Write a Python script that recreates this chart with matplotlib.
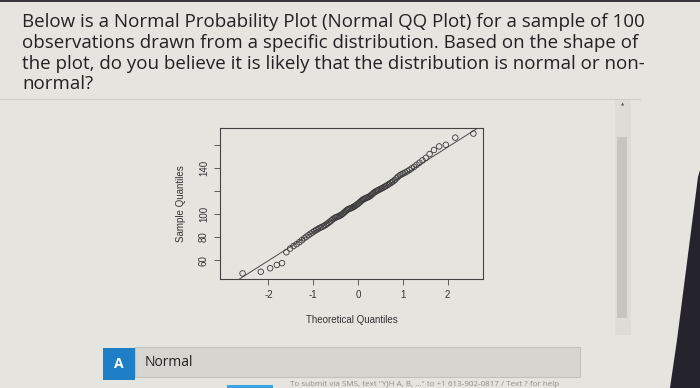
import numpy as np
import matplotlib
matplotlib.use("Agg")
import matplotlib.pyplot as plt
from matplotlib.patches import Rectangle, Polygon
from statistics import NormalDist

plt.rcParams["axes.unicode_minus"] = False

# --- data (sorted sample, n = 100) ---
sample_values = [
    48.5, 49.9, 53.0, 55.8, 57.4, 66.8, 70.0, 72.2, 73.8, 75.5,
    77.2, 78.9, 80.3, 81.6, 82.9, 84.0, 85.1, 86.0, 86.9, 87.7,
    88.4, 89.0, 89.7, 90.5, 91.4, 92.3, 93.2, 94.2, 95.2, 96.0,
    96.7, 97.2, 97.6, 98.1, 98.6, 99.2, 100.0, 100.9, 101.8, 102.7,
    103.5, 104.1, 104.5, 104.9, 105.3, 105.8, 106.4, 107.0, 107.7, 108.4,
    109.2, 110.0, 110.9, 111.7, 112.4, 113.0, 113.5, 113.9, 114.3, 114.8,
    115.4, 116.2, 117.1, 118.0, 118.8, 119.5, 120.1, 120.6, 121.1, 121.7,
    122.3, 122.9, 123.6, 124.2, 125.0, 125.8, 126.6, 127.4, 128.3, 129.4,
    130.9, 132.3, 133.4, 134.3, 135.1, 135.9, 136.9, 138.1, 139.4, 140.8,
    142.5, 144.3, 146.3, 148.5, 151.8, 155.3, 158.4, 159.8, 166.0, 169.5,
]
x_ticks = [-2, -1, 0, 1, 2]
y_ticks = [60, 80, 100, 120, 140, 160]
y_tick_labels = ["60", "80", "100", "", "140", ""]

question = ("Below is a Normal Probability Plot (Normal QQ Plot) for a sample of 100\n"
            "observations drawn from a specific distribution. Based on the shape of\n"
            "the plot, do you believe it is likely that the distribution is normal or non-\n"
            "normal?")
answer_letter = "A"
answer_text = "Normal"
sms_text = 'To submit via SMS, text "YJH A, B, ..." to +1 613-902-0817 / Text ? for help'

# theoretical quantiles like R's qqnorm (ppoints with a = 0.5)
n = len(sample_values)
nd = NormalDist()
theo = [nd.inv_cdf((i + 0.5) / n) for i in range(n)]
# qqline through the quartiles
q1, q3 = np.quantile(sample_values, [0.25, 0.75])
z1, z3 = nd.inv_cdf(0.25), nd.inv_cdf(0.75)
slope = (q3 - q1) / (z3 - z1)
intercept = q1 - slope * z1

W, H = 700, 388
bg = "#e5e4df"
fig = plt.figure(figsize=(7, 3.88), dpi=100, facecolor=bg)

def fx(px):
    return px / W

def fy(py):
    return 1 - py / H

# question text
fig.text(fx(22), fy(13), question, ha="left", va="top", fontsize=13.5,
         family="Open Sans", color="#222222", linespacing=1.2)
fig.add_artist(plt.Line2D([0, fx(640)], [fy(99), fy(99)], color="#cfcec9", lw=0.8))

# scrollbar
fig.add_artist(Rectangle((fx(615), fy(335)), fx(16), (335 - 100) / H, transform=fig.transFigure,
                         facecolor="#dddcd7", edgecolor="none"))
fig.add_artist(Rectangle((fx(617), fy(318)), fx(10), (318 - 137) / H, transform=fig.transFigure,
                         facecolor="#c6c5bf", edgecolor="none"))
fig.text(fx(623), fy(104), "\u25b2", fontsize=3, ha="center", va="center", color="#555555")

# QQ plot
ax = fig.add_axes([fx(220), fy(279), fx(263), (279 - 128) / H])
ax.set_facecolor(bg)
ax.scatter(theo, sample_values, s=16, facecolors="none", edgecolors="#3a3a3a", linewidths=0.6, zorder=3)
ax.axline((0, intercept), slope=slope, color="#4a4a4a", lw=0.7)
pad = 0.04 * (max(sample_values) - min(sample_values))
ax.set_ylim(min(sample_values) - pad, max(sample_values) + pad)
ax.set_xlim(-3.08, 2.79)
ax.set_xticks(x_ticks)
ax.set_yticks(y_ticks)
ax.set_yticklabels(y_tick_labels, rotation=90, va="center")
for sp in ax.spines.values():
    sp.set_color("#444444")
    sp.set_linewidth(0.8)
ax.tick_params(direction="out", length=4, width=0.6, color="#444444",
               labelsize=7, labelcolor="#333333", pad=4)
for lab in ax.get_xticklabels() + ax.get_yticklabels():
    lab.set_family("Liberation Sans")
ax.set_xlabel("Theoretical Quantiles", fontsize=7, family="Liberation Sans", color="#333333", labelpad=11)
ax.set_ylabel("Sample Quantiles", fontsize=7, family="Liberation Sans", color="#333333", labelpad=9)

# answer option
fig.add_artist(Rectangle((fx(135), fy(377)), fx(445), 30 / H, transform=fig.transFigure,
                         facecolor="#d6d5cf", edgecolor="#c2c1bb", lw=0.8))
fig.add_artist(Rectangle((fx(103), fy(380)), fx(32), 32 / H, transform=fig.transFigure,
                         facecolor="#1f7fc6", edgecolor="none"))
fig.text(fx(119), fy(364), answer_letter, ha="center", va="center", fontsize=10,
         weight="bold", color="white", family="Open Sans")
fig.text(fx(145), fy(362), answer_text, ha="left", va="center", fontsize=10,
         color="#222222", family="Open Sans")

# bottom strip
fig.add_artist(Rectangle((fx(227), 0), fx(46), 3 / H, transform=fig.transFigure,
                         facecolor="#3aa3e3", edgecolor="none"))
fig.text(fx(290), fy(384), sms_text, ha="left", va="center", fontsize=5.8,
         color="#8c8c88", family="Open Sans")

# monitor bezel on the right
fig.add_artist(Polygon([(1, fy(170)), (fx(698), fy(177)), (fx(677), fy(340)), (fx(670), 0), (1, 0)],
                       closed=True, transform=fig.transFigure, facecolor="#25232b", edgecolor="none"))
fig.add_artist(Rectangle((0, fy(2)), 1, 2 / H, transform=fig.transFigure,
                         facecolor="#3a3838", edgecolor="none"))

fig.savefig("out.png", dpi=100, facecolor=bg)
